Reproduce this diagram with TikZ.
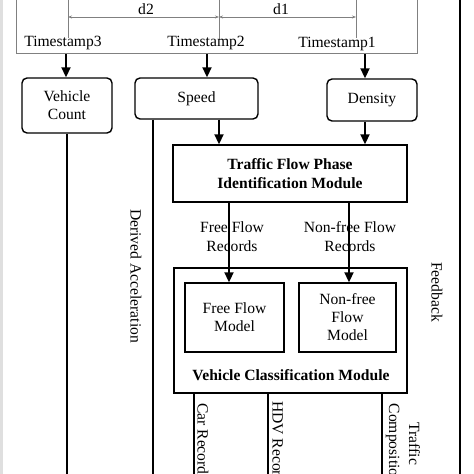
\documentclass[tikz,border=0pt]{standalone}
\usepackage{fontspec}
\setmainfont{Liberation Serif}
\usetikzlibrary{arrows.meta}
\begin{document}
\begin{tikzpicture}[x=1pt,y=-1pt,
  every node/.style={font=\fontsize{15.6}{18}\selectfont, inner sep=0pt},
  rbox/.style={draw, line width=1.4pt, rounded corners=5pt, align=center},
  sbox/.style={draw, line width=1.4pt, align=center},
  arr/.style={line width=1.9pt, -{Triangle[length=10pt,width=9pt]}},
  ln/.style={line width=1.9pt},
  gl/.style={draw=gray, line width=1pt},
  dim/.style={gray, line width=0.7pt, {Stealth[length=4pt,width=3pt]}-{Stealth[length=4pt,width=3pt]}},
  vlab/.style={rotate=-90}
]
\useasboundingbox (0,0) rectangle (474,474);
\clip (0,0) rectangle (474,474);
\fill[gray!25] (0,0) rectangle (2.5,474);

% top box
\node (tb) [gl, minimum width=401pt, minimum height=80pt, anchor=south west] at (16,54) {};
\coordinate (v3) at (68,-5);
\coordinate (v2) at (219,-5);
\coordinate (v1) at (356,-5);
\coordinate (v3e) at (68,38);
\coordinate (v2e) at (219,40);
\coordinate (v1e) at (356,38);
\draw[gray, line width=1pt] (v3) -- (v3e);
\draw[gray, line width=1pt] (v2) -- (v2e);
\draw[gray, line width=1pt] (v1) -- (v1e);
\draw[dim] (v3 |- 0,17) -- (v2 |- 0,17);
\draw[dim] (v2 |- 0,17) -- (v1 |- 0,17);
\node (d2) at (146,9) {d2};
\node (d1) at (281,9) {d1};
\node (t3) at (63,43) {Timestamp3};
\node (t2) at (206,43) {Timestamp2};
\node (t1) at (337,44) {Timestamp1};

% boxes
\node (vc) [rbox, minimum width=90pt, minimum height=55pt] at (67,105.5) {Vehicle\\Count};
\node (sp) [rbox, minimum width=123pt, minimum height=41pt] at (196.5,98.5) {Speed};
\node (de) [rbox, minimum width=90pt, minimum height=42pt] at (372,100) {Density};
\node (tf) [sbox, minimum width=234pt, minimum height=57pt, font=\fontsize{15.6}{19}\selectfont\bfseries] at (290,173.5) {Traffic Flow Phase\\Identification Module};
\node (vcm) [sbox, minimum width=233pt, minimum height=125pt] at (290.5,330.5) {};
\node (ffm) [sbox, minimum width=99pt, minimum height=69pt] at (234.5,317.5) {Free Flow\\Model};
\node (nfm) [sbox, minimum width=97pt, minimum height=69pt] at (347.5,317.5) {Non-free\\Flow\\Model};
\node (vcml) [font=\fontsize{15.6}{18}\selectfont\bfseries] at (291,375) {Vehicle Classification Module};

% arrows from top box
\coordinate (a3) at (66,0);
\coordinate (a2) at (207,0);
\coordinate (a1) at (365,0);
\draw[arr] (a3 |- tb.south) -- (a3 |- vc.north);
\draw[arr] (a2 |- tb.south) -- (a2 |- sp.north);
\draw[arr] (a1 |- tb.south) -- (a1 |- de.north);

% into TFPIM
\coordinate (s1) at (219,0);
\coordinate (s2) at (365,0);
\draw[arr] (s1 |- sp.south) -- (s1 |- tf.north);
\draw[arr] (s2 |- de.south) -- (s2 |- tf.north);

% out of TFPIM
\coordinate (f1) at (229,0);
\coordinate (f2) at (349,0);
\draw[arr] (f1 |- tf.south) -- (f1 |- ffm.north);
\draw[arr] (f2 |- tf.south) -- (f2 |- nfm.north);
\node (ffr) [align=center, font=\fontsize{15.6}{19}\selectfont] at (232,237) {Free Flow\\Records};
\node (nfr) [align=center, font=\fontsize{15.6}{19}\selectfont] at (350,237) {Non-free Flow\\Records};

% long lines
\coordinate (bot) at (0,480);
\coordinate (da) at (153,0);
\draw[ln] (vc.south) -- (vc.south |- bot);
\draw[ln] (da |- sp.south) -- (da |- bot);
\node (dal) [vlab] at (136,276) {Derived Acceleration};

\coordinate (o1) at (194,0);
\coordinate (o2) at (268,0);
\coordinate (o3) at (382,0);
\draw[ln] (o1 |- vcm.south) -- (o1 |- bot);
\draw[ln] (o2 |- vcm.south) -- (o2 |- bot);
\draw[ln] (o3 |- vcm.south) -- (o3 |- bot);
\node (carl) [vlab, anchor=west] at (203,403) {Car Records};
\node (hdvl) [vlab, anchor=west] at (278,401) {HDV Records};
\node (tcl) [vlab, align=center, font=\fontsize{15.6}{20}\selectfont] at (403,444) {Traffic\\Composition};

% feedback
\coordinate (fbt) at (460,-5);
\coordinate (fbb) at (460,480);
\draw[ln] (fbt) -- (fbb);
\node (fbl) [vlab] at (437,292) {Feedback};
\end{tikzpicture}
\end{document}
